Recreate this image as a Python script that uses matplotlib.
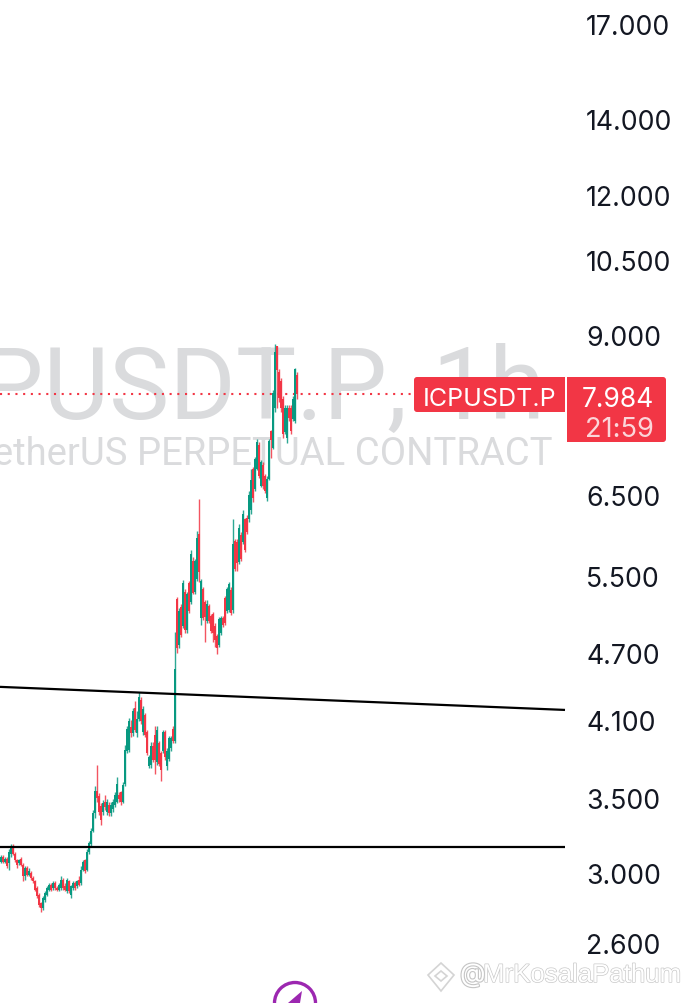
import matplotlib
matplotlib.use("Agg")
import matplotlib.pyplot as plt
import numpy as np
from matplotlib.patches import FancyBboxPatch, Circle, Polygon, Rectangle
import matplotlib.patheffects as pe
from matplotlib.ticker import NullLocator

plt.rcParams['font.family'] = ['Inter', 'Roboto', 'DejaVu Sans']

opens = [3.07,3.10,3.07,3.09,3.06,3.12,3.16,3.12,3.08,3.06,3.09,3.05,2.98,3.03,2.99,3.00,2.97,2.95,2.91,2.87,2.82,2.79,2.84,2.87,2.90,2.93,2.91,2.94,2.91,2.90,
 2.91,2.96,2.92,2.89,2.95,2.87,2.91,2.94,2.92,2.96,2.94,3.02,3.08,3.02,3.13,3.18,3.27,3.39,3.55,3.51,3.44,3.40,3.47,3.40,3.45,3.39,3.42,3.45,3.47,3.52,
 3.54,3.47,3.60,3.85,3.86,4.04,3.99,4.20,3.99,4.11,4.27,4.00,4.14,4.00,3.73,3.74,3.89,3.98,3.76,3.91,3.83,3.85,4.00,3.73,3.79,3.87,4.03,3.93,
 5.25,4.78,5.17,4.97,5.33,4.93,5.43,5.22,5.68,5.33,5.47,6.00,5.05,5.36,5.22,5.02,5.18,5.07,5.09,4.97,4.87,4.78,4.90,5.05,5.26,5.12,5.13,5.35,5.13,
 5.91,5.90,5.66,5.98,5.90,6.18,6.20,6.18,6.30,6.85,6.58,6.85,7.20,6.62,6.90,6.75,6.45,6.71,7.40,7.15,7.75,8.80,8.35,8.20,7.90,7.38,7.30,7.75,7.75,7.58,7.55,8.30]
highs = [3.11,3.11,3.10,3.10,3.15,3.18,3.18,3.13,3.09,3.09,3.10,3.06,3.04,3.04,3.03,3.01,2.98,2.96,2.92,2.88,2.83,2.86,2.89,2.92,2.94,2.94,2.95,2.95,2.92,2.94,
 2.98,2.97,2.94,2.97,2.96,2.93,2.95,2.95,2.96,2.98,3.04,3.08,3.09,3.15,3.20,3.29,3.41,3.58,3.74,3.53,3.46,3.48,3.52,3.49,3.47,3.47,3.49,3.54,3.65,3.54,
 3.55,3.61,3.90,4.05,4.12,4.10,4.20,4.26,4.18,4.34,4.30,4.22,4.16,4.02,3.82,3.92,3.92,4.05,4.05,3.93,3.85,4.02,4.02,3.87,3.97,3.97,4.05,4.91,
 5.27,5.16,5.20,5.46,5.36,5.33,5.45,5.80,5.72,5.70,6.03,6.44,5.47,5.38,5.24,5.24,5.20,5.09,5.11,5.00,4.89,5.06,5.07,5.07,5.28,5.38,5.44,5.38,6.18,
 5.93,5.93,6.12,6.02,6.30,6.20,6.24,6.55,6.85,6.88,7.02,7.28,7.24,6.98,6.95,6.78,6.75,7.28,7.42,8.05,8.85,8.80,8.40,8.25,7.95,7.80,7.80,7.80,7.80,7.95,8.42,8.35]
lows = [3.06,3.06,3.06,3.03,3.02,3.10,3.11,3.07,3.03,3.05,3.04,2.95,2.96,2.98,2.98,2.96,2.94,2.89,2.85,2.80,2.77,2.78,2.83,2.86,2.89,2.89,2.90,2.90,2.89,2.89,
 2.90,2.90,2.89,2.88,2.88,2.85,2.90,2.90,2.91,2.92,2.93,3.01,3.00,3.01,3.12,3.17,3.26,3.36,3.47,3.38,3.31,3.38,3.41,3.38,3.37,3.37,3.40,3.43,3.46,3.47,
 3.45,3.46,3.58,3.83,3.84,3.96,3.97,4.00,3.96,4.09,4.07,3.98,3.96,3.82,3.72,3.72,3.76,3.67,3.74,3.73,3.62,3.83,3.78,3.70,3.77,3.85,3.91,3.91,
 4.70,4.75,4.86,4.95,4.90,4.90,5.10,5.20,5.30,5.30,5.45,5.44,4.98,5.03,4.81,5.00,5.00,4.90,4.81,4.76,4.69,4.76,4.88,4.96,4.98,5.10,5.11,5.08,5.10,
 5.56,5.56,5.64,5.67,5.88,5.78,6.00,6.15,6.25,6.40,6.55,6.83,6.72,6.60,6.58,6.52,6.42,6.69,7.00,7.13,7.70,7.75,7.85,7.70,7.30,7.35,7.22,7.55,7.35,7.55,7.53,7.90]
closes = [3.10,3.07,3.09,3.04,3.13,3.16,3.12,3.08,3.05,3.08,3.05,2.98,3.03,2.99,3.01,2.97,2.95,2.90,2.86,2.81,2.79,2.85,2.88,2.91,2.93,2.90,2.94,2.91,2.90,2.93,
 2.96,2.91,2.90,2.96,2.89,2.92,2.94,2.91,2.95,2.93,3.02,3.07,3.01,3.13,3.19,3.27,3.39,3.55,3.50,3.40,3.34,3.46,3.43,3.47,3.39,3.45,3.47,3.52,3.60,3.49,
 3.47,3.59,3.86,4.03,4.09,3.99,4.18,4.02,4.11,4.30,4.09,4.19,3.98,3.83,3.80,3.89,3.78,3.78,4.02,3.75,3.70,4.00,3.80,3.85,3.95,3.95,3.93,4.55,
 4.75,5.12,4.88,5.43,4.93,5.30,5.12,5.76,5.32,5.68,5.95,5.55,5.45,5.05,5.06,5.20,5.02,4.92,4.90,4.83,4.75,5.04,5.05,4.98,5.00,5.36,5.41,5.10,5.88,
 5.58,5.65,6.07,5.70,6.25,5.80,6.02,6.50,6.70,6.45,6.99,7.24,6.75,6.95,6.62,6.55,6.71,7.25,7.27,8.00,8.70,8.38,7.92,7.75,7.35,7.75,7.76,7.60,7.40,7.90,8.40,7.984]

price_ticks = [17.0, 14.0, 12.0, 10.5, 9.0, 6.5, 5.5, 4.7, 4.1, 3.5, 3.0, 2.6]
price_labels = ['17.000','14.000','12.000','10.500','9.000','6.500','5.500','4.700','4.100','3.500','3.000','2.600']
last_price = 7.984
countdown = '21:59'
symbol = 'ICPUSDT.P'
trend_upper = [4.388, 4.186]
trend_lower = [3.165, 3.165]
trend_bars = [-0.5, 282]

UP, DOWN = '#089981', '#f23645'
W, H = 689, 1004
fig = plt.figure(figsize=(W/100, H/100), dpi=100, facecolor='white')
ax = fig.add_axes([0, 0, 1, 1], zorder=2)
ax.patch.set_alpha(0)
ax.set_yscale('log')
PPL = 489.4
ax.set_ylim(2.6*np.exp((944-1004)/PPL), 2.6*np.exp(944/PPL))
ax.set_xlim(-0.5, 344)
for s in ax.spines.values():
    s.set_visible(False)
ax.xaxis.set_visible(False)
ax.yaxis.set_minor_locator(NullLocator())
ax.set_yticks(price_ticks)
ax.set_yticklabels(price_labels, ha='left', fontsize=19.2, color='#131722')
ax.tick_params(axis='y', length=0, pad=-586*0.72)

bg = fig.add_axes([0, 0, 1, 1], zorder=1)
fg = fig.add_axes([0, 0, 1, 1], zorder=3)
for a in (bg, fg):
    a.set_xlim(0, W); a.set_ylim(H, 0); a.axis('off'); a.patch.set_alpha(0)
wm = '#dadbdd'
bg.text(545, 419, symbol + ', 1h', fontsize=73, color=wm, ha='right', va='baseline', family=['Roboto'], clip_on=True)
bg.text(553, 465, 'TetherUS PERPETUAL CONTRACT', fontsize=27.5, color=wm, ha='right', va='baseline', family=['Roboto'], clip_on=True)

idx = np.arange(len(opens))
o, h, l, c = map(np.array, (opens, highs, lows, closes))
cols = [UP if a >= b else DOWN for a, b in zip(c, o)]
ax.vlines(idx, l, h, colors=cols, lw=1.0, alpha=0.85, zorder=3)
ax.bar(idx, np.abs(c-o), bottom=np.minimum(o, c), width=0.8, color=cols, lw=0, zorder=4)

ax.plot(trend_bars, trend_upper, color='black', lw=1.6, zorder=5, solid_capstyle='butt')
ax.plot(trend_bars, trend_lower, color='black', lw=1.6, zorder=5, solid_capstyle='butt')
ax.plot([-0.5, 207], [last_price, last_price], color=DOWN, lw=1.5, ls=(0, (1, 2.7)), zorder=2)

fg.add_patch(FancyBboxPatch((416, 380), 147, 31, boxstyle='round,pad=2,rounding_size=3', fc=DOWN, ec='none'))
fg.add_patch(FancyBboxPatch((569, 380), 95, 61, boxstyle='round,pad=2,rounding_size=3', fc=DOWN, ec='none'))
fg.add_patch(Rectangle((560, 378), 5, 35, fc=DOWN, ec='none'))
fg.add_patch(Rectangle((567, 378), 6, 65, fc=DOWN, ec='none'))
fg.text(489.5, 397, symbol, color='white', fontsize=18, ha='center', va='center_baseline')
fg.text(654, 397, f'{last_price:.3f}', color='white', fontsize=19, ha='right', va='center_baseline')
fg.text(654, 427, countdown, color='#fbd5d9', fontsize=19.6, ha='right', va='center_baseline')

fg.add_patch(Circle((295, 1004), 20.5, fc='white', ec='#9c27b0', lw=2.4))
fg.add_patch(Polygon([[302, 992], [288, 1004], [296, 1004], [293, 1010], [300, 1004]], closed=True, fc='#9c27b0', ec='none'))

stroke = [pe.withStroke(linewidth=1.0, foreground='#c9c9c9')]
fg.text(460, 976, '@', color='white', fontsize=19, ha='left', va='center', path_effects=[pe.withStroke(linewidth=1.6, foreground='#c4c4c4')])
fg.text(483, 976, 'MrKosalaPathum', color='white', fontsize=18.6, ha='left', va='center', family=['Liberation Sans'], path_effects=stroke)
for pts in ([[441, 964], [454, 976], [441, 992], [428, 976]], [[441, 972], [447, 977], [441, 982], [435, 977]]):
    fg.add_patch(Polygon(pts, closed=True, fc='white', ec='#d4d4d4', lw=1.2))

fig.savefig('out.png', dpi=100, facecolor='white')
